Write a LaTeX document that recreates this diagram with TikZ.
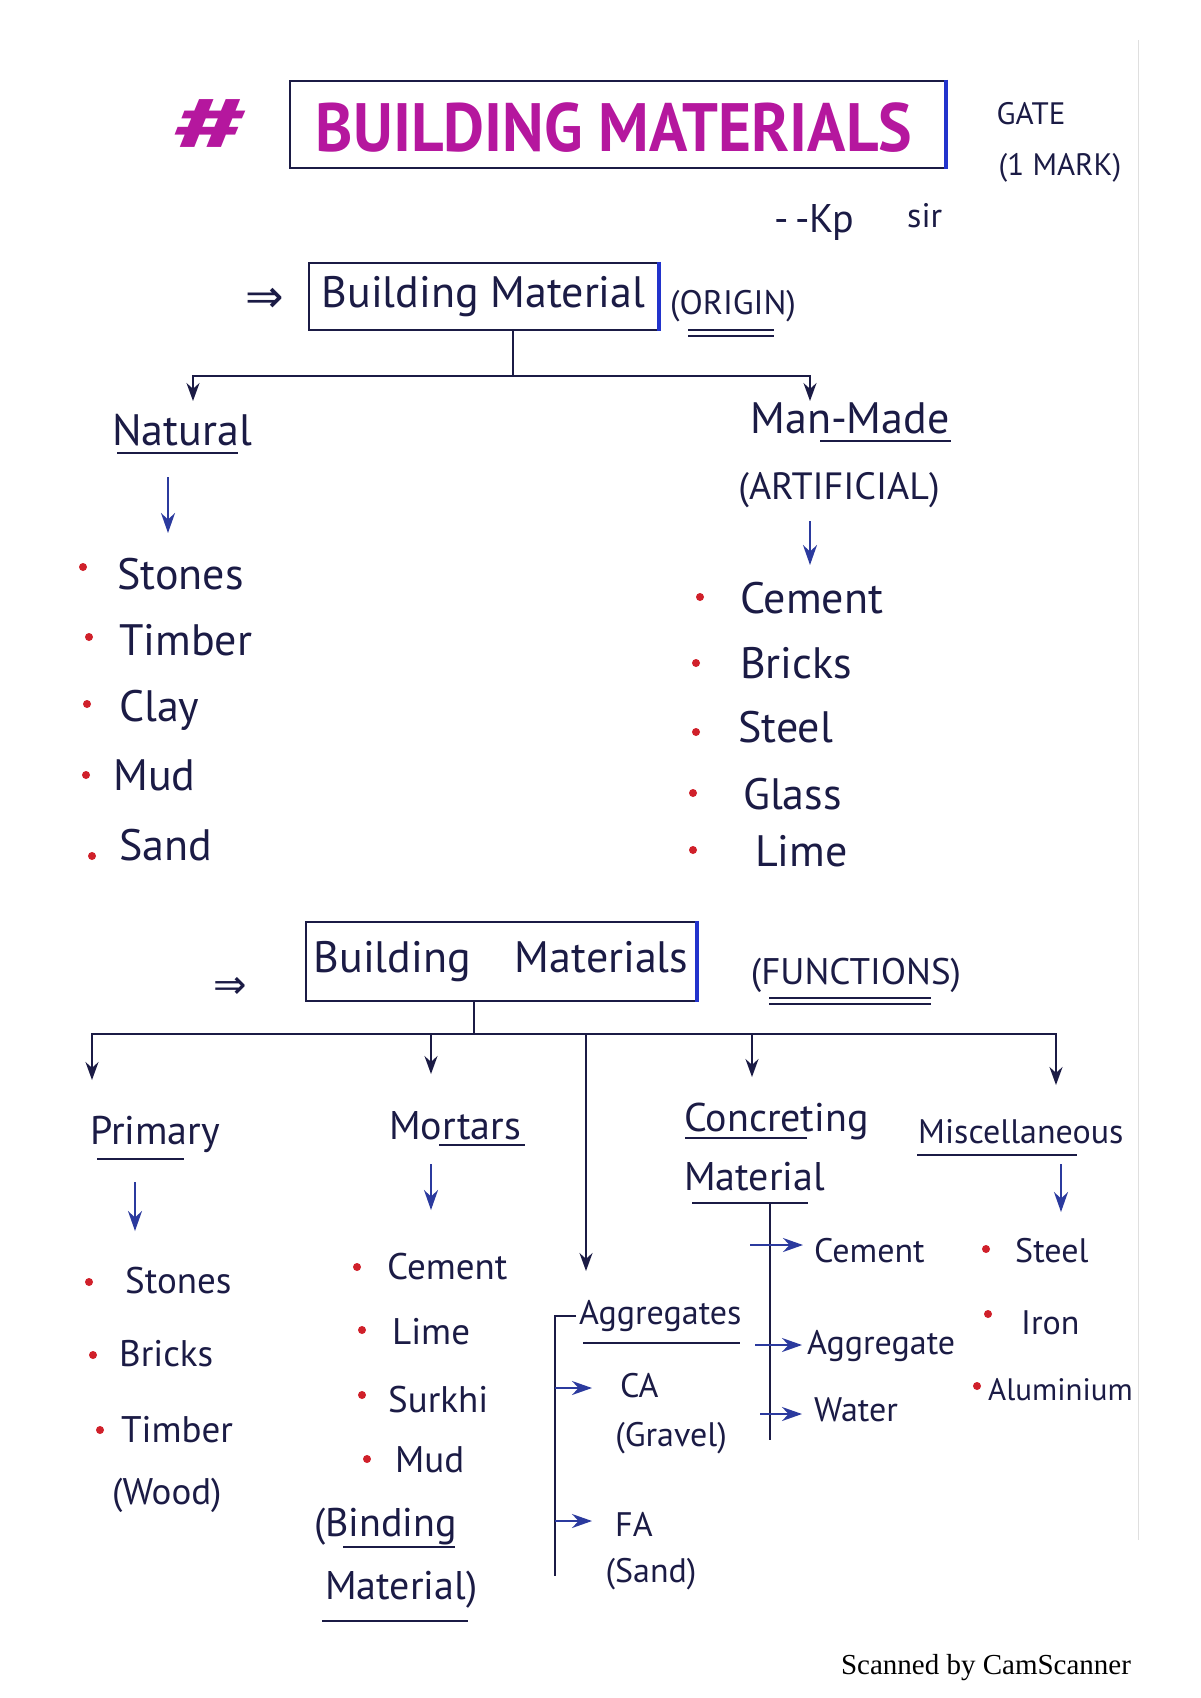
\documentclass[tikz,border=0pt]{standalone}
\usepackage{fontspec}
\setmainfont{PT Sans}
\newfontfamily\camfont{Liberation Serif}
\newfontfamily\symfont{DejaVu Sans}
\usetikzlibrary{arrows.meta}
\definecolor{ink}{HTML}{1B1B45}
\definecolor{arrblue}{HTML}{2B3A9E}
\definecolor{bulred}{HTML}{D0202A}
\definecolor{magen}{HTML}{B5179E}
\definecolor{edgeblue}{HTML}{2233CC}
\newcommand{\fs}[1]{\fontsize{#1}{#1}\selectfont}
\begin{document}
\begin{tikzpicture}[x=1pt,y=-1pt,
  every node/.style={inner sep=0pt, text=ink},
  tA/.style={font=\fs{44}},
  tB/.style={font=\fs{40}},
  tC/.style={font=\fs{37}},
  tD/.style={font=\fs{34}},
  tE/.style={font=\fs{31}},
  bul/.style={circle, fill=bulred, minimum size=8pt},
  arr/.style={draw=arrblue, line width=1.7pt, -{Stealth[length=20pt,width=14pt]}},
  arrk/.style={draw=ink, line width=1.7pt, -{Stealth[length=18pt,width=13pt]}},
  ln/.style={draw=ink, line width=1.7pt},
  ul/.style={draw=ink, line width=1.7pt},
  hbox/.style={draw=ink, line width=2.2pt},
  blueedge/.style={draw=edgeblue, line width=4.5pt}]
\path[fill=white, use as bounding box] (0,0) rectangle (1200,1698);
\draw[gray!25, line width=1pt] (1138,40) -- (1138,1540);

% ---------- title ----------
\node[font=\fs{80}\bfseries, text=magen] (hash) at (211,126) {\scalebox{1.7}[1.0]{\#}};
\node[hbox, minimum width=655pt, minimum height=87pt] (tbox) at (617.5,124.5) {};
\node[font=\fs{57}\bfseries, text=magen] (ttl) at (614,128) {\scalebox{1.11}[1.2]{BUILDING MATERIALS}};
\draw[blueedge] (tbox.north east) -- (tbox.south east);
\node[tE] (gate) at (1031,114) {GATE};
\node[tE] (mark) at (1060,168) {(1 MARK)};
\node[tB, anchor=west] (kp) at (774,222) {-\,-Kp};
\node[tD, anchor=west] (sir) at (907,216) {sir};

% ---------- origin ----------
\node[font=\symfont\fs{46}] (arr1) at (265,300) {⇒};
\node[hbox, minimum width=349pt, minimum height=67pt, tA] (bm1) at (483.5,296.5) {Building Material};
\draw[blueedge] (bm1.north east) -- (bm1.south east);
\node[tD] (origin) at (733,306) {(ORIGIN)};
\draw[ul] (688,330) -- (774,330);
\draw[ul] (688,336) -- (774,336);

\coordinate (j1) at (513,376);
\coordinate (natTip) at (193,401);
\coordinate (mmTip) at (810,401);
\draw[ln] (bm1.south -| j1) -- (j1);
\draw[arrk] (j1) -| (natTip);
\draw[arrk] (j1) -| (mmTip);

% Natural
\node[tA] (nat) at (182,430) {Natural};
\draw[ul] (117,453) -- (238,453);
\coordinate (natA1) at (168,477);
\coordinate (natA2) at (168,533);
\draw[arr] (natA1) -- (natA2);
\node[tA, anchor=west] (n1) at (117,574) {Stones};
\node[tA, anchor=west] (n2) at (119,640) {Timber};
\node[tA, anchor=west] (n3) at (119,710) {Clay};
\node[tA, anchor=west] (n4) at (113,775) {Mud};
\node[tA, anchor=west] (n5) at (119,845) {Sand};
\node[bul] (nb1) at (83,567) {};
\node[bul] (nb2) at (89,637) {};
\node[bul] (nb3) at (87,704) {};
\node[bul] (nb4) at (86,775) {};
\node[bul] (nb5) at (92,856) {};

% Man-made
\node[tA] (mm) at (850,418) {Man-Made};
\draw[ul] (820,441) -- (951,441);
\node[font=\fs{38}] (art) at (839,490) {(ARTIFICIAL)};
\coordinate (mmA1) at (810,521);
\coordinate (mmA2) at (810,565);
\draw[arr] (mmA1) -- (mmA2);
\node[tA, anchor=west] (m1) at (740,598) {Cement};
\node[tA, anchor=west] (m2) at (740,663) {Bricks};
\node[tA, anchor=west] (m3) at (738,727) {Steel};
\node[tA, anchor=west] (m4) at (743,794) {Glass};
\node[tA, anchor=west] (m5) at (755,851) {Lime};
\node[bul] (mb1) at (700,597) {};
\node[bul] (mb2) at (696,663) {};
\node[bul] (mb3) at (696,732) {};
\node[bul] (mb4) at (693,793) {};
\node[bul] (mb5) at (693,850) {};

% ---------- functions ----------
\node[font=\symfont\fs{40}] (arr2) at (230,988) {⇒};
\node[hbox, minimum width=390pt, minimum height=79pt, tA] (bm2) at (501,961.5) {Building\quad Materials};
\draw[blueedge] (bm2.north east) -- (bm2.south east);
\node[tC] (func) at (856,975) {(FUNCTIONS)};
\draw[ul] (769,998) -- (931,998);
\draw[ul] (769,1004) -- (931,1004);

\coordinate (j2) at (474,1034);
\coordinate (pTip) at (92,1080);
\coordinate (moTip) at (431,1074);
\coordinate (agTip) at (586,1271);
\coordinate (coTip) at (752,1077);
\coordinate (miTip) at (1056,1085);
\draw[ln] (bm2.south -| j2) -- (j2);
\draw[arrk] (j2) -| (pTip);
\draw[arrk] (j2) -| (miTip);
\draw[arrk] (j2) -| (moTip);
\draw[arrk] (j2) -| (agTip);
\draw[arrk] (j2) -| (coTip);

% Primary
\node[tB] (prim) at (155,1134) {Primary};
\draw[ul] (97,1159) -- (184,1159);
\coordinate (pA1) at (135,1182);
\coordinate (pA2) at (135,1231);
\draw[arr] (pA1) -- (pA2);
\node[tC, anchor=west] (p1) at (125,1281) {Stones};
\node[tC, anchor=west] (p2) at (119,1354) {Bricks};
\node[tC, anchor=west] (p3) at (121,1430) {Timber};
\node[tC, anchor=west] (p4) at (112,1495) {(Wood)};
\node[bul] (pb1) at (89,1282) {};
\node[bul] (pb2) at (93,1355) {};
\node[bul] (pb3) at (100,1430) {};

% Mortars
\node[tB] (mort) at (455,1126) {Mortars};
\draw[ul] (439,1145) -- (525,1145);
\coordinate (moA1) at (431,1164);
\coordinate (moA2) at (431,1210);
\draw[arr] (moA1) -- (moA2);
\node[tC, anchor=west] (o1) at (387,1267) {Cement};
\node[tC, anchor=west] (o2) at (392,1332) {Lime};
\node[tC, anchor=west] (o3) at (388,1400) {Surkhi};
\node[tC, anchor=west] (o4) at (395,1460) {Mud};
\node[tB, anchor=west] (o5) at (314,1527) {(Binding};
\node[tB, anchor=west] (o6) at (325,1590) {Material)};
\draw[ul] (343,1547) -- (455,1547);
\draw[ul] (322,1621) -- (468,1621);
\node[bul] (ob1) at (357,1267) {};
\node[bul] (ob2) at (362,1330) {};
\node[bul] (ob3) at (362,1395) {};
\node[bul] (ob4) at (367,1459) {};

% Aggregates
\node[tD, anchor=west] (agg) at (579,1316) {Aggregates};
\draw[ul] (583,1343) -- (740,1343);
\coordinate (bBot) at (555,1576);
\draw[ln] ([xshift=-3pt]agg.west) -- (agg.west -| bBot) -- (bBot);
\coordinate (caS) at (555,1388);
\coordinate (caT) at (592,1388);
\coordinate (faS) at (555,1521);
\coordinate (faT) at (592,1521);
\draw[arr] (caS) -- (caT);
\draw[arr] (faS) -- (faT);
\node[tD, anchor=west] (ca) at (620,1386) {CA};
\node[tD] (grav) at (671,1438) {(Gravel)};
\node[tD, anchor=west] (fa) at (615,1524) {FA};
\node[tD] (sand) at (651,1574) {(Sand)};

% Concreting material
\node[tB, anchor=west] (conc) at (684,1121) {Concreting};
\draw[ul] (685,1138) -- (807,1138);
\node[tB, anchor=west] (cmat) at (684,1177) {Material};
\draw[ul] (692,1203) -- (808,1203);
\coordinate (cvT) at (770,1204);
\coordinate (cvB) at (770,1440);
\draw[ln] (cvT) -- (cvB);
\coordinate (c1S) at (750,1245);
\coordinate (c1T) at (803,1245);
\coordinate (c2S) at (755,1345);
\coordinate (c2T) at (802,1345);
\coordinate (c3S) at (760,1414);
\coordinate (c3T) at (802,1414);
\draw[arr] (c1S) -- (c1T);
\draw[arr] (c2S) -- (c2T);
\draw[arr] (c3S) -- (c3T);
\node[tD, anchor=west] (c1) at (814,1251) {Cement};
\node[tD, anchor=west] (c2) at (807,1346) {Aggregate};
\node[tD, anchor=west] (c3) at (814,1410) {Water};

% Miscellaneous
\node[tD, anchor=west] (misc) at (918,1132) {Miscellaneous};
\draw[ul] (917,1155) -- (1077,1155);
\coordinate (miA1) at (1061,1164);
\coordinate (miA2) at (1061,1212);
\draw[arr] (miA1) -- (miA2);
\node[tD, anchor=west] (s1) at (1015,1251) {Steel};
\node[tD, anchor=west] (s2) at (1021,1323) {Iron};
\node[tE, anchor=west] (s3) at (988,1390) {Aluminium};
\node[bul] (sb1) at (986,1249) {};
\node[bul] (sb2) at (988,1314) {};
\node[bul] (sb3) at (977,1386) {};

% footer
\node[font=\camfont\fs{29}, text=black] (cam) at (986,1668) {Scanned by CamScanner};
\end{tikzpicture}
\end{document}
